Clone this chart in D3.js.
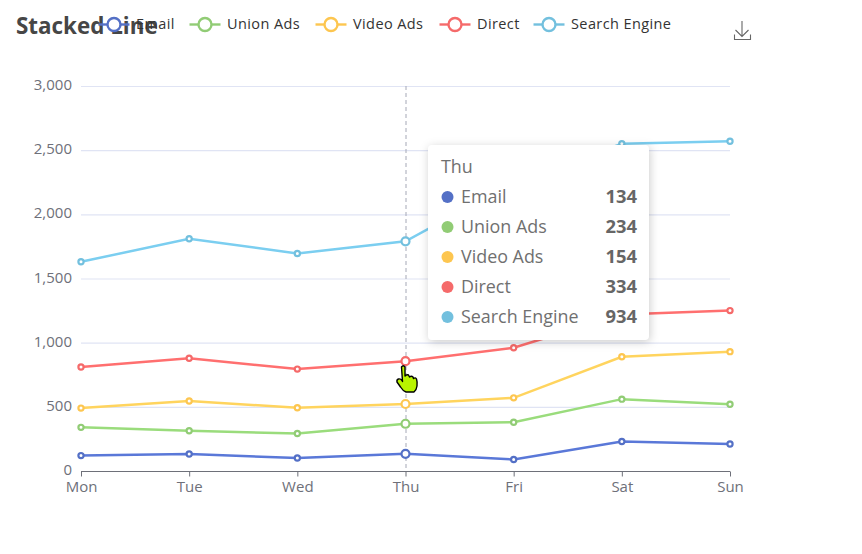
<!DOCTYPE html>
<html><head><meta charset="utf-8">
<script src="https://cdn.jsdelivr.net/npm/d3@7/dist/d3.min.js"></script>
<style>
html,body{margin:0;padding:0;background:#fff;overflow:hidden}
svg{display:block;font-family:"Open Sans","Noto Sans",sans-serif}
</style></head><body>
<svg id="c" width="862" height="554"></svg>
<script>
const days = ["Mon","Tue","Wed","Thu","Fri","Sat","Sun"];
const seriesNames = ["Email","Union Ads","Video Ads","Direct","Search Engine"];
const email = [120,132,101,134,90,230,210];
const unionAds = [220,182,191,234,290,330,310];
const videoAds = [150,232,201,154,190,330,410];
const direct = [320,332,301,334,390,330,320];
const searchEngine = [820,932,901,934,1290,1330,1320];
const yTicks = [0,500,1000,1500,2000,2500,3000];
const lineColors = ["#5a78d8","#9adc7c","#ffd45e","#ff6f6f","#7bcef0"];
const keyColors = ["#5470c6","#91cc75","#fdc650","#f56a6a","#73c0de"];
const hoverIndex = 3;

const allValues = [email,unionAds,videoAds,direct,searchEngine];
const table = days.map((d,i)=>{const r={day:d};seriesNames.forEach((s,j)=>r[s]=allValues[j][i]);return r;});
const stacked = d3.stack().keys(seriesNames)(table);

const svg = d3.select("#c");
const x = d3.scalePoint().domain(days).range([81,730]);
const y = d3.scaleLinear().domain([0,3000]).range([471,86]);

// grid
svg.append("g").selectAll("line").data(yTicks.filter(t=>t>0)).join("line")
  .attr("x1",81).attr("x2",730).attr("y1",d=>y(d)+.5).attr("y2",d=>y(d)+.5)
  .attr("stroke","#E0E4F4").attr("stroke-width",1.2);

// y labels
svg.append("g").selectAll("text").data(yTicks).join("text")
  .attr("x",72).attr("y",d=>y(d)).attr("text-anchor","end").attr("dominant-baseline","middle")
  .attr("font-size",15).attr("fill","#6E7079").text(d3.format(","));

// x axis
const xAxis = d3.axisBottom(x).tickSize(5).tickPadding(5);
const gx = svg.append("g").attr("transform","translate(0,471.5)").call(xAxis);
gx.select(".domain").attr("stroke","#6E7079").attr("stroke-width",1).attr("d","M81,0H730");
gx.selectAll(".tick line").attr("stroke","#6E7079");
gx.selectAll(".tick text").attr("font-size",15).attr("fill","#6E7079").attr("font-family",'"Open Sans","Noto Sans",sans-serif');

// axis pointer
svg.append("line").attr("x1",x(days[hoverIndex])+.5).attr("x2",x(days[hoverIndex])+.5)
  .attr("y1",86).attr("y2",471).attr("stroke","#A5A8B6").attr("stroke-width",1).attr("stroke-dasharray","4 3");

// series
const line = d3.line().x(d=>x(d.data.day)).y(d=>y(d[1]));
const groups = svg.append("g").selectAll("g").data(stacked).join("g");
groups.append("path").attr("d",line).attr("fill","none")
  .attr("stroke",(d,i)=>lineColors[i]).attr("stroke-width",2.5);
groups.each(function(s,si){
  d3.select(this).selectAll("circle").data(s).join("circle")
    .attr("cx",d=>x(d.data.day)).attr("cy",d=>y(d[1]))
    .attr("r",(d,i)=>i===hoverIndex?4:2.6)
    .attr("fill","#fff").attr("stroke",keyColors[si]).attr("stroke-width",2.2);
});

// title
svg.append("text").attr("x",16).attr("y",34).attr("font-size",22.4).attr("font-weight",700)
  .attr("fill","#464646").text("Stacked Line");

// legend
const legendCx = [114,205,331,455,549];
const leg = svg.append("g").selectAll("g").data(seriesNames).join("g")
  .attr("transform",(d,i)=>`translate(${legendCx[i]},24.5)`);
leg.append("line").attr("x1",-15.5).attr("x2",15.5).attr("stroke",(d,i)=>keyColors[i]).attr("stroke-width",2.4);
leg.append("circle").attr("r",6.5).attr("fill","#fff").attr("stroke",(d,i)=>keyColors[i]).attr("stroke-width",2.4);
leg.append("text").attr("x",22).attr("y",.3).attr("dominant-baseline","middle")
  .attr("font-size",14.5).attr("letter-spacing",.4).attr("fill","#333").text(d=>d);

// download icon
svg.append("path").attr("d","M742 21V36M735.5 30L742 36.5L748.5 30M734.5 34.5V39.5H750.5V34.5")
  .attr("fill","none").attr("stroke","#666").attr("stroke-width",1.1);

// tooltip
const tip = svg.append("g").attr("transform","translate(428,145)");
tip.append("rect").attr("width",221).attr("height",195).attr("rx",4).attr("fill","#fff")
  .style("filter","drop-shadow(1px 2px 5px rgba(0,0,0,.2))");
tip.append("text").attr("x",13).attr("y",23.2).attr("dominant-baseline","middle")
  .attr("font-size",17.9).attr("fill","#707070").text(days[hoverIndex]);
const rows = tip.selectAll("g.row").data(seriesNames).join("g").attr("class","row")
  .attr("transform",(d,i)=>`translate(0,${52+i*30})`);
rows.append("circle").attr("cx",19.5).attr("r",6).attr("fill",(d,i)=>keyColors[i]);
rows.append("text").attr("x",33).attr("y",1.2).attr("dominant-baseline","middle").attr("font-size",17.9).attr("fill","#707070").text(d=>d);
rows.append("text").attr("x",209).attr("y",1.2).attr("text-anchor","end").attr("dominant-baseline","middle")
  .attr("font-size",18.4).attr("font-weight",700).attr("fill","#666").text((d,i)=>allValues[i][hoverIndex]);

// hand cursor
svg.append("path")
  .attr("d","M401.500 367q1.700-2.500 3.500 0V376q1.500-2 3.500-1l1 2q2-1.500 3.500 0l.5 1.500q2-1.500 3 .5q1 3 .5 7q-.5 4-3 6h-8q-3-1-5.500-5l-3.500-5q-.5-2.500 1.500-3t3.500 1.500l.5 1z")
  .attr("fill","#b9f400").attr("stroke","#000").attr("stroke-width",1.4).attr("stroke-linejoin","round");
</script>
</body></html>
